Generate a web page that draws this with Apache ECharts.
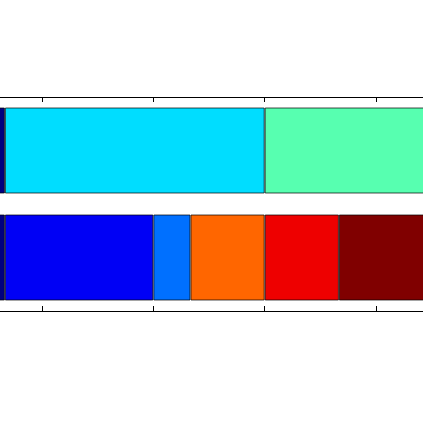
<!DOCTYPE html>
<html>
<head>
<meta charset="utf-8">
<script src="https://cdn.jsdelivr.net/npm/echarts@6/dist/echarts.min.js"></script>
<style>
  html, body { margin: 0; padding: 0; background: #fff; }
  #chart { width: 423px; height: 423px; }
</style>
</head>
<body>
<div id="chart"></div>
<script>
// rows of the stacked bars (top to bottom)
const rows = ['row1', 'row2'];
// segment lengths, left to right
const topSegments = [2, 7, 6];
const bottomSegments = [2, 4, 1, 2, 2, 4];
// visible part of the axis (the picture is cropped) and its ticks
const xMin = 1.868;
const xMax = 13.266;
const xTicks = [3, 6, 9, 12];

// jet-like colours per segment
const topColors = ['#000080', '#00ddff', '#57ffb0'];
const bottomColors = ['#000080', '#0000f5', '#0070ff', '#ff6600', '#ee0000', '#800000'];

const chart = echarts.init(document.getElementById('chart'));

// bars run past both edges of the canvas, so let the page crop them
const series = [];
const n = Math.max(topSegments.length, bottomSegments.length);
for (let i = 0; i < n; i++) {
  series.push({
    type: 'bar',
    stack: 'all',
    barWidth: 86,
    clip: false,
    animation: false,
    itemStyle: { borderColor: 'rgba(0,0,0,0.7)', borderWidth: 1 },
    data: [
      i < topSegments.length ? { value: topSegments[i], itemStyle: { color: topColors[i] } } : '-',
      i < bottomSegments.length ? { value: bottomSegments[i], itemStyle: { color: bottomColors[i] } } : '-'
    ]
  });
}

const axisCommon = {
  type: 'value',
  min: xMin,
  max: xMax,
  axisLine: { show: true, lineStyle: { color: '#000', width: 1 } },
  axisTick: { show: true, inside: true, length: 5, customValues: xTicks, lineStyle: { color: '#000' } },
  axisLabel: { show: false },
  splitLine: { show: false }
};

chart.setOption({
  backgroundColor: '#fff',
  animation: false,
  grid: { left: 0, right: 0, top: 97, bottom: 112, containLabel: false },
  xAxis: [
    Object.assign({ position: 'bottom' }, axisCommon),
    Object.assign({ position: 'top' }, axisCommon)
  ],
  yAxis: {
    type: 'category',
    data: rows,
    inverse: true,
    axisLine: { show: false },
    axisTick: { show: false },
    axisLabel: { show: false }
  },
  series: series
});
</script>
</body>
</html>
